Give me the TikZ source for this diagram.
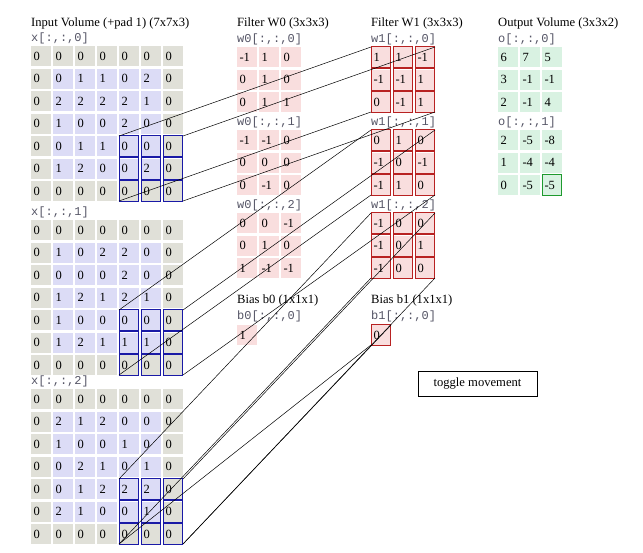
\documentclass[tikz,border=0pt]{standalone}
\usepackage{fontspec}
\setmainfont{Liberation Serif}
\newfontfamily\lbl{Liberation Mono}
\definecolor{padc}{HTML}{E0E0D8}
\definecolor{inc}{HTML}{DCDCF6}
\definecolor{filc}{HTML}{F9DEDE}
\definecolor{outc}{HTML}{D9F2E2}
\definecolor{blu}{HTML}{1A1AA6}
\definecolor{rd}{HTML}{B82222}
\definecolor{grn}{HTML}{1E9A2E}
\definecolor{lblc}{HTML}{555566}
\tikzset{
 cell/.style={minimum width=20pt,minimum height=20pt,inner sep=0pt,outer sep=0pt,anchor=north west,
   text width=15pt,align=left,font=\fontsize{12.5}{14}\selectfont},
 title/.style={anchor=west,inner sep=0pt,font=\fontsize{12.6}{14}\selectfont},
 lab/.style={anchor=west,inner sep=0pt,font=\lbl\fontsize{12}{14}\selectfont,text=lblc},
 hl/.style={draw=blu,line width=1.3pt},
 rl/.style={draw=rd,line width=1.3pt},
 conn/.style={black,line width=0.5pt}
}
\newcommand{\mygrid}[5]{% name, x, y, rows, kind
 \foreach \row [count=\r from 0] in #4{
  \foreach \v [count=\c from 0] in \row{
   \node[cell,fill=#5] (#1-\r-\c) at ({#2+22*\c},{#3+22.5*\r}) {\v};
  }}}
\begin{document}
\begin{tikzpicture}[x=1pt,y=-1pt]
\useasboundingbox (0,0) rectangle (643,552);
\fill[white] (0,0) rectangle (643,552);
% titles
\node[title] (tin) at (31,23) {Input Volume (+pad 1) (7x7x3)};
\node[title] (tw0) at (237,23) {Filter W0 (3x3x3)};
\node[title] (tw1) at (371,23) {Filter W1 (3x3x3)};
\node[title] (tout) at (498,23) {Output Volume (3x3x2)};
% input
\foreach \s/\yy/\data in {
 0/46/{{0,0,0,0,0,0,0},{0,0,1,1,0,2,0},{0,2,2,2,2,1,0},{0,1,0,0,2,0,0},{0,0,1,1,0,0,0},{0,1,2,0,0,2,0},{0,0,0,0,0,0,0}},
 1/220/{{0,0,0,0,0,0,0},{0,1,0,2,2,0,0},{0,0,0,0,2,0,0},{0,1,2,1,2,1,0},{0,1,0,0,0,0,0},{0,1,2,1,1,1,0},{0,0,0,0,0,0,0}},
 2/389/{{0,0,0,0,0,0,0},{0,2,1,2,0,0,0},{0,1,0,0,1,0,0},{0,0,2,1,0,1,0},{0,0,1,2,2,2,0},{0,2,1,0,0,1,0},{0,0,0,0,0,0,0}}}{
 \node[lab] (xl\s) at (31,\yy-8) {x[:,:,\s]};
 \foreach \row [count=\r from 0] in \data{
  \foreach \v [count=\c from 0] in \row{
   \pgfmathtruncatemacro\pad{(\r==0||\r==6||\c==0||\c==6)?1:0}
   \ifnum\pad=1 \def\fc{padc}\else\def\fc{inc}\fi
   \node[cell,fill=\fc] (x\s-\r-\c) at ({31+22*\c},{\yy+22.5*\r}) {\v};
  }}
 \foreach \r in {4,5,6}{\foreach \c in {4,5,6}{
   \draw[hl] ([shift={(0.7,-0.7)}]x\s-\r-\c.north west) rectangle ([shift={(-0.7,0.7)}]x\s-\r-\c.south east);}}
}
% filter W0
\foreach \s/\yy/\data in {0/47/{{-1,1,0},{0,1,0},{0,1,1}},1/130/{{-1,-1,0},{0,0,0},{0,-1,0}},2/213/{{0,0,-1},{0,1,0},{1,-1,-1}}}{
 \node[lab] (w0l\s) at (237,\yy-8) {w0[:,:,\s]};
 \mygrid{w0\s}{237}{\yy}{\data}{filc}
}
% filter W1
\foreach \s/\yy/\data in {0/47/{{1,1,-1},{-1,-1,1},{0,-1,1}},1/130/{{0,1,0},{-1,0,-1},{-1,1,0}},2/213/{{-1,0,0},{-1,0,1},{-1,0,0}}}{
 \node[lab] (w1l\s) at (371,\yy-8) {w1[:,:,\s]};
 \mygrid{w1\s}{371}{\yy}{\data}{filc}
 \foreach \r in {0,1,2}{\foreach \c in {0,1,2}{
   \draw[rl] ([shift={(0.7,-0.7)}]w1\s-\r-\c.north west) rectangle ([shift={(-0.7,0.7)}]w1\s-\r-\c.south east);}}
}
% output
\foreach \s/\yy/\data in {0/47/{{6,7,5},{3,-1,-1},{2,-1,4}},1/130/{{2,-5,-8},{1,-4,-4},{0,-5,-5}}}{
 \node[lab] (ol\s) at (498,\yy-8) {o[:,:,\s]};
 \mygrid{o\s}{498}{\yy}{\data}{outc}
}
\draw[draw=grn,line width=1.3pt] ([shift={(0.7,-0.7)}]o1-2-2.north west) rectangle ([shift={(-0.7,0.7)}]o1-2-2.south east);
% bias
\node[title] (tb0) at (237,300) {Bias b0 (1x1x1)};
\node[lab] (b0l) at (237,316) {b0[:,:,0]};
\node[cell,fill=filc] (b0) at (237,325) {1};
\node[title] (tb1) at (371,300) {Bias b1 (1x1x1)};
\node[lab] (b1l) at (371,316) {b1[:,:,0]};
\node[cell,fill=filc] (b1) at (371,325) {0};
\draw[rl] ([shift={(0.7,-0.7)}]b1.north west) rectangle ([shift={(-0.7,0.7)}]b1.south east);
% connectors
\foreach \s in {0,1,2}{
 \draw[conn] (x\s-4-4.north west) -- (w1\s-0-0.north west);
 \draw[conn] (x\s-4-6.north east) -- (w1\s-0-2.north east);
 \draw[conn] (x\s-6-4.south west) -- (w1\s-2-0.south west);
 \draw[conn] (x\s-6-6.south east) -- (w1\s-2-2.south east);
}
\draw[conn] (x2-6-4.south west) -- (b1.south west);
\draw[conn] (x2-6-6.south east) -- (b1.north east);
% button
\node[draw=black,line width=1pt,minimum width=119pt,minimum height=25pt,inner sep=0pt,font=\fontsize{12.6}{14}\selectfont] (btn) at (477.5,383.5) {toggle movement};
\end{tikzpicture}
\end{document}
